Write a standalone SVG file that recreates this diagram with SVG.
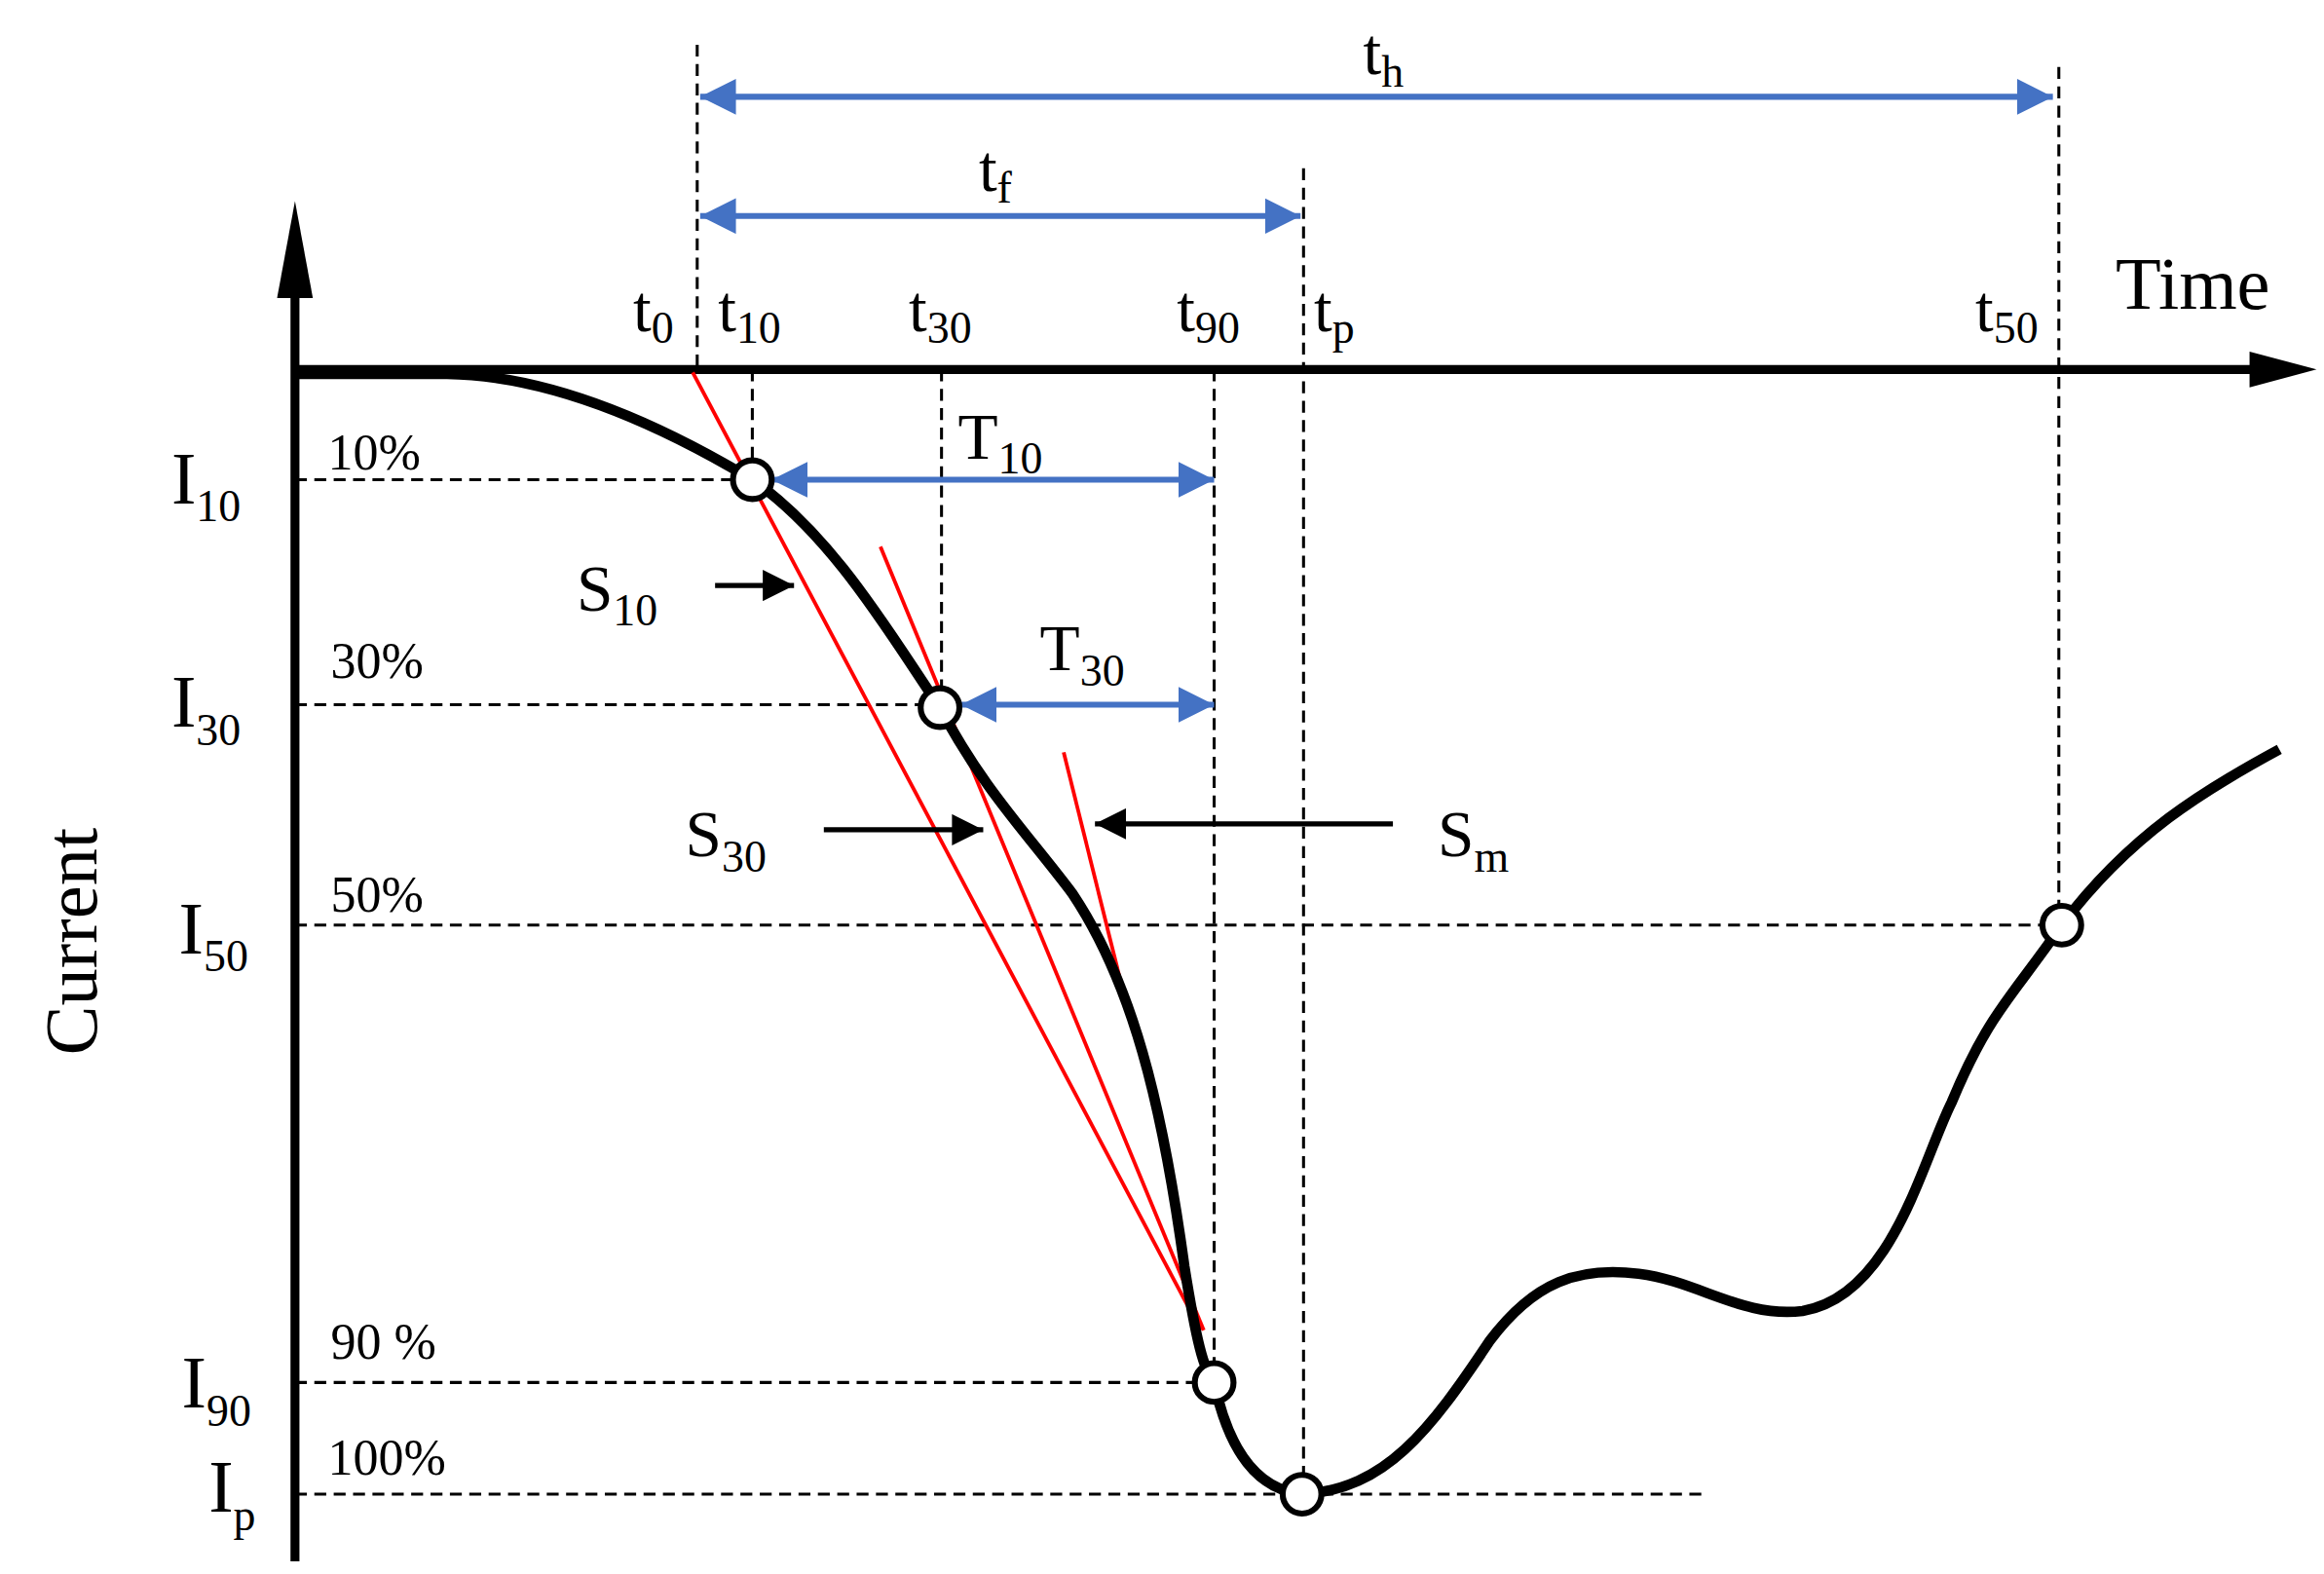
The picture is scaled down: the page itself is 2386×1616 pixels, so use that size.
<svg xmlns="http://www.w3.org/2000/svg" width="2386" height="1616" viewBox="0 0 2386 1616">
<defs>
<style>
text{font-family:"Liberation Serif","Times New Roman",serif;fill:#000}
.lab{font-size:44px}
.sub{font-size:30px}
.pct{font-size:34px}
.I{font-size:50px}
.dash{stroke:#000;stroke-width:2;stroke-dasharray:8,5;fill:none}
.blue{stroke:#4472C4;stroke-width:4;fill:none}
.red{stroke:#FF0000;stroke-width:2.5;fill:none}
.pt{fill:#fff;stroke:#000;stroke-width:4}
</style>
<marker id="bh" viewBox="0 0 10 10" refX="10" refY="5" markerWidth="6" markerHeight="6" markerUnits="strokeWidth" orient="auto-start-reverse"><path d="M0,0 L10,5 L0,10 z" fill="#4472C4"/></marker>
<marker id="kh" viewBox="0 0 10 10" refX="10" refY="5" markerWidth="6" markerHeight="6" markerUnits="strokeWidth" orient="auto"><path d="M0,0 L10,5 L0,10 z" fill="#000"/></marker>
</defs>
<rect width="2386" height="1616" fill="#fff"/>
<g transform="scale(1.5295)">
<g id="guides">
<line class="dash" x1="468" y1="30" x2="468" y2="248"/>
<line class="dash" x1="505" y1="248" x2="505" y2="322"/>
<line class="dash" x1="632" y1="248" x2="632" y2="473"/>
<line class="dash" x1="815" y1="248" x2="815" y2="928"/>
<line class="dash" x1="875" y1="113" x2="875" y2="1003"/>
<line class="dash" x1="1382" y1="45" x2="1382" y2="621"/>
<line class="dash" x1="198" y1="322" x2="505" y2="322"/>
<line class="dash" x1="198" y1="473" x2="630" y2="473"/>
<line class="dash" x1="198" y1="621" x2="1382" y2="621"/>
<line class="dash" x1="198" y1="928" x2="815" y2="928"/>
<line class="dash" x1="198" y1="1003" x2="1145" y2="1003"/>
</g>
<g id="axes">
<line x1="198" y1="1048" x2="198" y2="190" stroke="#000" stroke-width="6"/>
<path d="M186,200 L198,135 L210,200 z" fill="#000"/>
<line x1="198" y1="248" x2="1515" y2="248" stroke="#000" stroke-width="6"/>
<path d="M1510,236 L1555,248 L1510,260 z" fill="#000"/>
</g>
<g id="connectors">
<line class="blue" x1="470" y1="65" x2="1378" y2="65" marker-start="url(#bh)" marker-end="url(#bh)"/>
<line class="blue" x1="470" y1="145" x2="873" y2="145" marker-start="url(#bh)" marker-end="url(#bh)"/>
<line class="blue" x1="518" y1="322" x2="815" y2="322" marker-start="url(#bh)" marker-end="url(#bh)"/>
<line class="blue" x1="645" y1="473" x2="815" y2="473" marker-start="url(#bh)" marker-end="url(#bh)"/>
<line class="red" x1="465" y1="250" x2="806" y2="893"/>
<line class="red" x1="591" y1="367" x2="808" y2="893"/>
<line class="red" x1="714" y1="505" x2="755" y2="670"/>
<line x1="480" y1="393" x2="533" y2="393" stroke="#000" stroke-width="3.5" marker-end="url(#kh)"/>
<line x1="553" y1="557" x2="660" y2="557" stroke="#000" stroke-width="3.5" marker-end="url(#kh)"/>
<line x1="935" y1="553" x2="735" y2="553" stroke="#000" stroke-width="3.5" marker-end="url(#kh)"/>
</g>
<g id="curve">
<path d="M198,251 L300,251 C380,252 460,295 505,322 C560,360 600,430 631,475 C660,530 690,560 720,600 C760,660 780,740 795,850 C803,900 808,920 815,928 C825,975 845,1000 874,1003 C930,1000 960,960 1000,900 C1030,860 1060,850 1100,855 C1140,860 1170,885 1210,880 C1270,870 1290,780 1310,740 C1335,680 1350,670 1384,621 C1430,560 1480,530 1530,503" fill="none" stroke="#000" stroke-width="7"/>
<circle class="pt" cx="505" cy="322" r="13"/>
<circle class="pt" cx="631" cy="475" r="13"/>
<circle class="pt" cx="815" cy="928" r="13"/>
<circle class="pt" cx="874" cy="1003" r="13"/>
<circle class="pt" cx="1384" cy="621" r="13"/>
</g>
<g id="labels">
<text class="lab" x="915" y="50">t<tspan class="sub" dy="8">h</tspan></text>
<text class="lab" x="657" y="128">t<tspan class="sub" dy="8">f</tspan></text>
<text x="1420" y="207" font-size="50">Time</text>
<text class="lab" x="425" y="222">t<tspan class="sub" dy="8">0</tspan></text>
<text class="lab" x="482" y="222">t<tspan class="sub" dy="8">10</tspan></text>
<text class="lab" x="610" y="222">t<tspan class="sub" dy="8">30</tspan></text>
<text class="lab" x="790" y="222">t<tspan class="sub" dy="8">90</tspan></text>
<text class="lab" x="882" y="222">t<tspan class="sub" dy="8">p</tspan></text>
<text class="lab" x="1326" y="222">t<tspan class="sub" dy="8">50</tspan></text>
<text class="lab" x="643" y="308">T<tspan class="sub" dy="10">10</tspan></text>
<text class="lab" x="698" y="450">T<tspan class="sub" dy="10">30</tspan></text>
<text class="lab" x="387" y="410">S<tspan class="sub" dy="10">10</tspan></text>
<text class="lab" x="460" y="575">S<tspan class="sub" dy="10">30</tspan></text>
<text class="lab" x="965" y="575">S<tspan class="sub" dy="10">m</tspan></text>
<text class="I" x="115" y="338">I<tspan class="sub" dy="12">10</tspan></text>
<text class="I" x="115" y="488">I<tspan class="sub" dy="12">30</tspan></text>
<text class="I" x="120" y="640">I<tspan class="sub" dy="12">50</tspan></text>
<text class="I" x="122" y="945">I<tspan class="sub" dy="12">90</tspan></text>
<text class="I" x="140" y="1015">I<tspan class="sub" dy="12">p</tspan></text>
<text class="pct" x="220" y="315">10%</text>
<text class="pct" x="222" y="455">30%</text>
<text class="pct" x="222" y="612">50%</text>
<text class="pct" x="222" y="912">90 %</text>
<text class="pct" x="220" y="990">100%</text>
<text font-size="50" transform="translate(65,632) rotate(-90)" text-anchor="middle">Current</text>
</g>
</g>
</svg>
